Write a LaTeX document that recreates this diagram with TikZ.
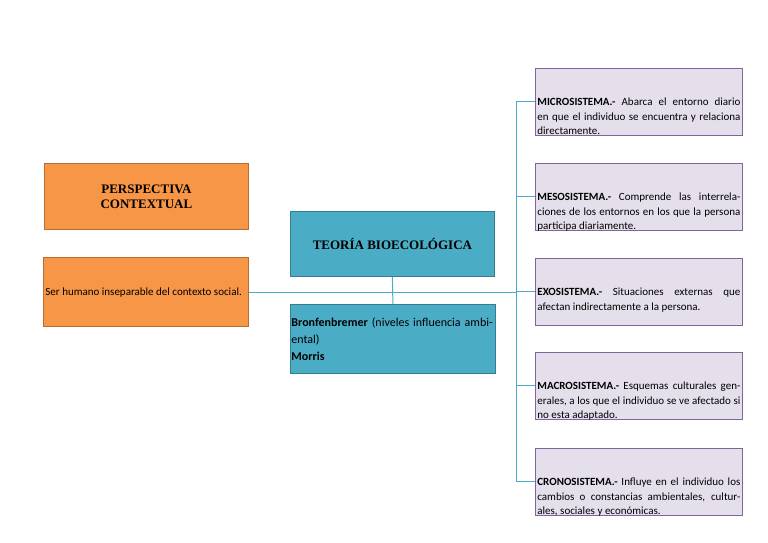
\documentclass[tikz,border=0pt]{standalone}
\usepackage{fontspec}
\setmainfont{Carlito}
\newfontfamily\titlefont{Liberation Serif}
\definecolor{orng}{HTML}{F79646}
\definecolor{orngd}{HTML}{B66D31}
\definecolor{teal}{HTML}{4BACC6}
\definecolor{teald}{HTML}{357D91}
\definecolor{lav}{HTML}{E5DFEC}
\definecolor{purp}{HTML}{8064A2}
\definecolor{linec}{HTML}{4BACC6}
\begin{document}
\begin{tikzpicture}[x=1pt,y=-1pt,
  box/.style={draw, line width=0.8pt, inner sep=2pt, anchor=north west, drop shadow/.style={}},
  ob/.style={box, fill=orng, draw=orngd},
  tb/.style={box, fill=teal, draw=teald},
  pb/.style={box, fill=lav, draw=purp, text width=203pt, minimum width=207pt, align=justify, font=\fontsize{11}{14.5}\selectfont, minimum height=67pt, text depth=0pt},
  conn/.style={draw=linec, line width=1pt}]
\useasboundingbox (0,0) rectangle (768,543);
\fill[white] (0,0) rectangle (768,543);
% left
\node[ob, minimum width=204pt, minimum height=66pt, align=center, font=\titlefont\bfseries\fontsize{13}{15}\selectfont] (persp) at (44,163) {PERSPECTIVA\\CONTEXTUAL};
\node[ob, minimum width=205pt, minimum height=69pt, text width=201pt, align=justify, font=\fontsize{11}{14}\selectfont] (ser) at (43,257) {\vspace{-16pt}Ser humano inseparable del contexto social.};
% center
\node[tb, minimum width=204pt, minimum height=65pt, font=\titlefont\bfseries\fontsize{13}{15}\selectfont] (teo) at (290,211) {TEORÍA BIOECOLÓGICA};
\node[tb, minimum width=205pt, minimum height=69pt, text width=203pt, align=left, font=\fontsize{12}{17}\selectfont, inner sep=1pt] (bro) at (290,304) {\textbf{Bronfenbremer} (niveles influencia ambiental)\\\textbf{Morris}\\[-4pt]};
% right
\node[pb] (mic) at (535,68) {\textbf{MICROSISTEMA.-} Abarca el entorno diario en que el individuo se encuentra y relaciona directamente.\\[8pt]};
\node[pb] (mes) at (535,163) {\textbf{MESOSISTEMA.-} Comprende las interrelaciones de los entornos en los que la persona participa diariamente.};
\node[pb] (exo) at (535,258) {\textbf{EXOSISTEMA.-} Situaciones externas que afectan indirectamente a la persona.};
\node[pb] (mac) at (535,352) {\textbf{MACROSISTEMA.-} Esquemas culturales generales, a los que el individuo se ve afectado si no esta adaptado.};
\node[pb] (cro) at (535,448) {\textbf{CRONOSISTEMA.-} Influye en el individuo los cambios o constancias ambientales, culturales, sociales y económicas.};
% connectors
\coordinate (t) at (516,292);
\draw[conn] (ser.east |- t) -- (t);
\draw[conn] (teo.south) -- (bro.north);
\draw[conn] (t |- mic.west) -- (t |- cro.west);
\foreach \n in {mic,mes,exo,mac,cro} \draw[conn] (t |- \n.west) -- (\n.west);
\end{tikzpicture}
\end{document}
